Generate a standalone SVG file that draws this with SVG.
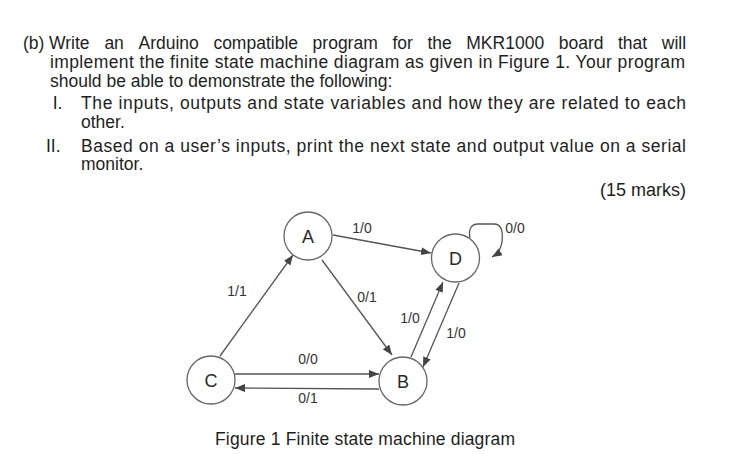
<svg xmlns="http://www.w3.org/2000/svg" width="742" height="454" viewBox="0 0 742 454">
<style>
.t{font-family:"Liberation Sans",Arial,sans-serif;font-size:17.5px;fill:#1e1e1e}
.lbl{font-family:"Liberation Sans",Arial,sans-serif;font-size:14px;fill:#333;text-anchor:middle}
.nl{font-family:"Liberation Sans",Arial,sans-serif;font-size:18px;fill:#2a2a2a;text-anchor:middle}
.node{fill:#fff;stroke:#666;stroke-width:1.3}
.edge{fill:none;stroke:#555;stroke-width:1.3;marker-end:url(#ah)}
</style>
<defs>
<marker id="ah" viewBox="0 0 10 8" refX="10" refY="4" markerWidth="10" markerHeight="8" markerUnits="userSpaceOnUse" orient="auto">
<path d="M0,0 L10,4 L0,8 Z" fill="#444"/>
</marker>
</defs>
<rect width="742" height="454" fill="#fff"/>
<g id="question">
<text class="t" x="23" y="48.5">(b)</text>
<text class="t" y="48.5"><tspan x="49">Write</tspan><tspan x="104.4">an</tspan><tspan x="138.5">Arduino</tspan><tspan x="213.4">compatible</tspan><tspan x="312.6">program</tspan><tspan x="392.4">for</tspan><tspan x="427.4">the</tspan><tspan x="466.3">MKR1000</tspan><tspan x="558.7">board</tspan><tspan x="618">that</tspan><tspan x="661.8">will</tspan></text>
<text class="t" x="50" y="68" textLength="635" lengthAdjust="spacing">implement the finite state machine diagram as given in Figure 1. Your program</text>
<text class="t" x="50" y="86.5">should be able to demonstrate the following:</text>
<text class="t" x="52.7" y="109">I.</text>
<text class="t" x="81" y="109" textLength="605" lengthAdjust="spacing">The inputs, outputs and state variables and how they are related to each</text>
<text class="t" x="81" y="127.5">other.</text>
<text class="t" x="46" y="151.5">II.</text>
<text class="t" x="81" y="151.5" textLength="605" lengthAdjust="spacing">Based on a user’s inputs, print the next state and output value on a serial</text>
<text class="t" x="81" y="170">monitor.</text>
<text class="t" x="686" y="196" text-anchor="end" style="font-size:18px">(15 marks)</text>
</g>
<g id="connectors">
<path class="edge" d="M220,356 L293,255"/>
<path class="edge" d="M333,235 L431,253"/>
<path class="edge" d="M322,260 L392,355"/>
<path class="edge" d="M411,357 L443,282"/>
<path class="edge" d="M459,283 L423,367"/>
<path class="edge" d="M235,374 L379,374"/>
<path class="edge" d="M379,389 L235,388"/>
<path class="edge" d="M470,238 C468,228 472,224 478,224 L494,224 C502,224 503,232 502,242 C501,250 497,254 492,257"/>
<text class="lbl" x="362" y="233">1/0</text>
<text class="lbl" x="515" y="233">0/0</text>
<text class="lbl" x="237" y="296">1/1</text>
<text class="lbl" x="367" y="302">0/1</text>
<text class="lbl" x="410" y="323">1/0</text>
<text class="lbl" x="456" y="338">1/0</text>
<text class="lbl" x="308" y="364">0/0</text>
<text class="lbl" x="308" y="403">0/1</text>
</g>
<g id="node-A"><circle class="node" cx="308" cy="236" r="24"/><text class="nl" x="308" y="242.5">A</text></g>
<g id="node-D"><circle class="node" cx="455.5" cy="258" r="24"/><text class="nl" x="455.5" y="264.5">D</text></g>
<g id="node-C"><circle class="node" cx="211" cy="380" r="24"/><text class="nl" x="211" y="386.5">C</text></g>
<g id="node-B"><circle class="node" cx="403" cy="381" r="24"/><text class="nl" x="403" y="387.5">B</text></g>
<g id="caption">
<text class="t" x="215" y="445" textLength="300" lengthAdjust="spacing">Figure 1 Finite state machine diagram</text>
</g>
</svg>
